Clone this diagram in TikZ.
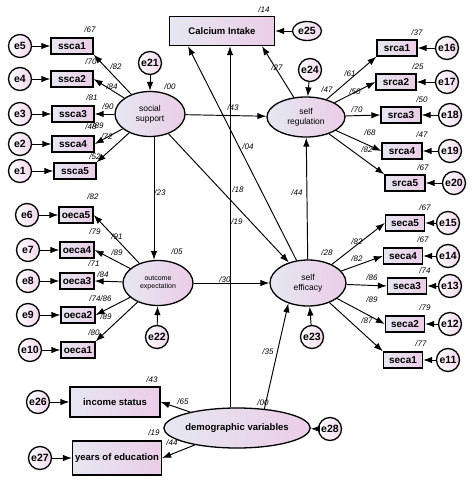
\documentclass[tikz,border=0pt]{standalone}
\usepackage{fontspec}
\setmainfont{Liberation Sans}
\usetikzlibrary{arrows.meta,shapes.geometric}
\definecolor{shL}{HTML}{E6E7F1}
\definecolor{shR}{HTML}{EBCDE7}
\definecolor{erL}{HTML}{FFFFFF}
\definecolor{erR}{HTML}{F0D6EC}
\tikzset{
  obs/.style={draw, line width=1.3pt, left color=shL, right color=shR, minimum width=40pt, minimum height=16pt, inner sep=1pt, font=\fontsize{10}{11}\selectfont\bfseries},
  lat/.style={draw, ellipse, line width=1.3pt, left color=shL, right color=shR, inner sep=0pt, align=center, font=\fontsize{8.5}{10}\selectfont},
  err/.style={draw, circle, line width=1.3pt, left color=erL, right color=erR, minimum size=23pt, inner sep=0pt, font=\fontsize{10.5}{11}\selectfont\bfseries},
  arr/.style={-{Latex[length=9pt,width=6.5pt]}, line width=0.95pt},
  lab/.style={font=\fontsize{8}{9}\selectfont\itshape, inner sep=0pt}
}
\begin{document}
\begin{tikzpicture}[x=1pt,y=-1pt]
\useasboundingbox (0,0) rectangle (474,487);
% ---------- Calcium Intake ----------
\node[obs, minimum width=105pt, minimum height=29pt, font=\fontsize{9.5}{11}\selectfont\bfseries] (ci) at (222,31) {Calcium Intake};
\node[err, ellipse, minimum width=29pt, minimum height=19pt] (e25) at (307,31) {e25};
\draw[arr] (e25) -- (ci);
\node[lab] at (264,10) {/14};
% ---------- social support ----------
\node[lat, minimum width=70pt, minimum height=45pt] (ss) at (150,114) {social\\support};
\node[err] (e21) at (150,63) {e21};
\draw[arr] (e21) -- (ss);
\node[lab] at (170,87) {/00};
\foreach \i/\y/\xx in {1/46/72,2/79/72,3/114/73,4/144/73,5/171/75}{
  \node[obs, minimum width=42pt] (ssca\i) at (\xx,\y) {ssca\i};
}
\node[err] (e5) at (20,46) {e5};
\node[err] (e4) at (20,79) {e4};
\node[err] (e3) at (20,114) {e3};
\node[err] (e2) at (20,144) {e2};
\node[err] (e1) at (20,171) {e1};
\draw[arr] (e5) -- (ssca1);
\draw[arr] (e4) -- (ssca2);
\draw[arr] (e3) -- (ssca3);
\draw[arr] (e2) -- (ssca4);
\draw[arr] (e1) -- (ssca5);
\draw[arr] (ss) -- (ssca1.south east);
\draw[arr] (ss) -- (ssca2.east);
\draw[arr] (ss) -- (ssca3.east);
\draw[arr] (ss) -- (ssca4.east);
\draw[arr] (ss) -- (ssca5.north east);
\node[lab] at (90,30) {/67};
\node[lab] at (91,62) {/70};
\node[lab] at (116,67) {/82};
\node[lab] at (112,87) {/84};
\node[lab] at (92,98) {/81};
\node[lab] at (108,107) {/90};
\node[lab] at (91,127) {/48};
\node[lab] at (98,126) {/89};
\node[lab] at (107,137) {/72};
\node[lab] at (95,157) {/52};
% ---------- self regulation ----------
\node[lat, minimum width=78pt, minimum height=40pt] (sr) at (306,117) {self\\regulation};
\node[err] (e24) at (310,70) {e24};
\draw[arr] (e24) -- (sr);
\node[lab] at (327,90) {/47};
\foreach \i/\xx/\y in {1/397/48,2/396/82,3/401/115,4/402/151,5/405/183}{
  \node[obs] (srca\i) at (\xx,\y) {srca\i};
}
\node[err] (e16) at (447,48) {e16};
\node[err] (e17) at (447,82) {e17};
\node[err] (e18) at (450,115) {e18};
\node[err] (e19) at (450,151) {e19};
\node[err] (e20) at (454,183) {e20};
\draw[arr] (e16) -- (srca1);
\draw[arr] (e17) -- (srca2);
\draw[arr] (e18) -- (srca3);
\draw[arr] (e19) -- (srca4);
\draw[arr] (e20) -- (srca5);
\draw[arr] (sr) -- (srca1.south west);
\draw[arr] (sr) -- (srca2.west);
\draw[arr] (sr) -- (srca3.west);
\draw[arr] (sr) -- (srca4.west);
\draw[arr] (sr) -- (srca5.north west);
\node[lab] at (417,33) {/37};
\node[lab] at (418,67) {/25};
\node[lab] at (422,100) {/50};
\node[lab] at (422,135) {/47};
\node[lab] at (423,168) {/67};
\node[lab] at (350,74) {/61};
\node[lab] at (355,92) {/50};
\node[lab] at (357,110) {/70};
\node[lab] at (370,133) {/68};
\node[lab] at (367,150) {/82};
% ---------- outcome expectation ----------
\node[lat, minimum width=70pt, minimum height=45pt, font=\fontsize{7}{8}\selectfont] (oe) at (158,283) {outcome\\expectation};
\node[err] (e22) at (157,337) {e22};
\draw[arr] (e22) -- (oe);
\node[lab] at (177,252) {/05};
\foreach \i/\xx/\y in {5/76/215,4/77/250,3/77/281,2/78/315,1/78/350}{
  \node[obs, minimum width=34pt] (oeca\i) at (\xx,\y) {oeca\i};
}
\node[err] (e6) at (27,215) {e6};
\node[err] (e7) at (28,250) {e7};
\node[err] (e8) at (28,281) {e8};
\node[err] (e9) at (28,315) {e9};
\node[err] (e10) at (30,350) {e10};
\draw[arr] (e6) -- (oeca5);
\draw[arr] (e7) -- (oeca4);
\draw[arr] (e8) -- (oeca3);
\draw[arr] (e9) -- (oeca2);
\draw[arr] (e10) -- (oeca1);
\draw[arr] (oe) -- (oeca5.east);
\draw[arr] (oe) -- (oeca4.east);
\draw[arr] (oe) -- (oeca3.east);
\draw[arr] (oe) -- (oeca2.east);
\draw[arr] (oe) -- (oeca1.north east);
\node[lab] at (93,197) {/82};
\node[lab] at (95,232) {/79};
\node[lab] at (117,237) {/91};
\node[lab] at (117,253) {/89};
\node[lab] at (94,264) {/71};
\node[lab] at (103,275) {/84};
\node[lab] at (95,299) {/74};
\node[lab] at (106,299) {/86};
\node[lab] at (106,317) {/89};
\node[lab] at (94,333) {/80};
% ---------- self efficacy ----------
\node[lat, minimum width=76pt, minimum height=46pt] (se) at (308,283) {self\\efficacy};
\node[err] (e23) at (312,337) {e23};
\draw[arr] (e23) -- (se);
\node[lab] at (327,253) {/28};
\foreach \i/\xx/\y in {5/405/223,4/403/256,3/407/286,2/405/324,1/403/360}{
  \node[obs, minimum width=39pt] (seca\i) at (\xx,\y) {seca\i};
}
\node[err] (e15) at (448,223) {e15};
\node[err] (e14) at (448,256) {e14};
\node[err] (e13) at (450,286) {e13};
\node[err] (e12) at (450,324) {e12};
\node[err] (e11) at (448,360) {e11};
\draw[arr] (e15) -- (seca5);
\draw[arr] (e14) -- (seca4);
\draw[arr] (e13) -- (seca3);
\draw[arr] (e12) -- (seca2);
\draw[arr] (e11) -- (seca1);
\draw[arr] (se) -- (seca5.west);
\draw[arr] (se) -- (seca4.west);
\draw[arr] (se) -- (seca3.west);
\draw[arr] (se) -- (seca2.west);
\draw[arr] (se) -- (seca1.north west);
\node[lab] at (425,208) {/67};
\node[lab] at (423,240) {/67};
\node[lab] at (425,271) {/74};
\node[lab] at (425,308) {/79};
\node[lab] at (421,344) {/77};
\node[lab] at (357,242) {/82};
\node[lab] at (357,259) {/82};
\node[lab] at (372,278) {/86};
\node[lab] at (372,300) {/89};
\node[lab] at (367,321) {/87};
% ---------- demographic ----------
\node[lat, minimum width=120pt, minimum height=40pt, font=\fontsize{9.5}{11}\selectfont\bfseries] (dv) at (237,428) {demographic variables};
\node[err] (e28) at (330,429) {e28};
\draw[arr] (e28) -- (dv);
\node[lab] at (263,403) {/00};
\node[obs, minimum width=90pt, minimum height=30pt, font=\fontsize{9.5}{11}\selectfont\bfseries] (is) at (115,402) {income status};
\node[obs, minimum width=89pt, minimum height=34pt, font=\fontsize{9.5}{11}\selectfont\bfseries] (ye) at (117,458) {years of education};
\node[err] (e26) at (38,402) {e26};
\node[err] (e27) at (40,458) {e27};
\draw[arr] (e26) -- (is);
\draw[arr] (e27) -- (ye);
\draw[arr] (dv) -- (is.east);
\draw[arr] (dv) -- (ye.east);
\node[lab] at (152,380) {/43};
\node[lab] at (183,402) {/65};
\node[lab] at (154,433) {/19};
\node[lab] at (172,443) {/44};
% ---------- structural paths ----------
\coordinate (vx) at (230,0);
\coordinate (cxa) at (188,0);
\coordinate (cxb) at (262,0);
\coordinate (sx) at (154,0);
\draw[arr] (ss) -- (sr);
\draw[arr] (ss.south -| sx) -- (oe.north -| sx);
\draw[arr] (ss) -- (se);
\draw[arr] (oe) -- (se);
\draw[arr] (se) -- (sr);
\draw[arr] (sr) -- (ci.south -| cxb);
\draw[arr] (se) -- (ci.south -| cxa);
\draw[arr] (dv.north -| vx) -- (ci.south -| vx);
\draw[arr] (dv.35) -- (se.226);
\node[lab] at (233,108) {/43};
\node[lab] at (277,68) {/27};
\node[lab] at (248,147) {/04};
\node[lab] at (238,190) {/18};
\node[lab] at (160,193) {/23};
\node[lab] at (237,222) {/19};
\node[lab] at (297,193) {/44};
\node[lab] at (225,280) {/30};
\node[lab] at (268,352) {/35};
\end{tikzpicture}
\end{document}
